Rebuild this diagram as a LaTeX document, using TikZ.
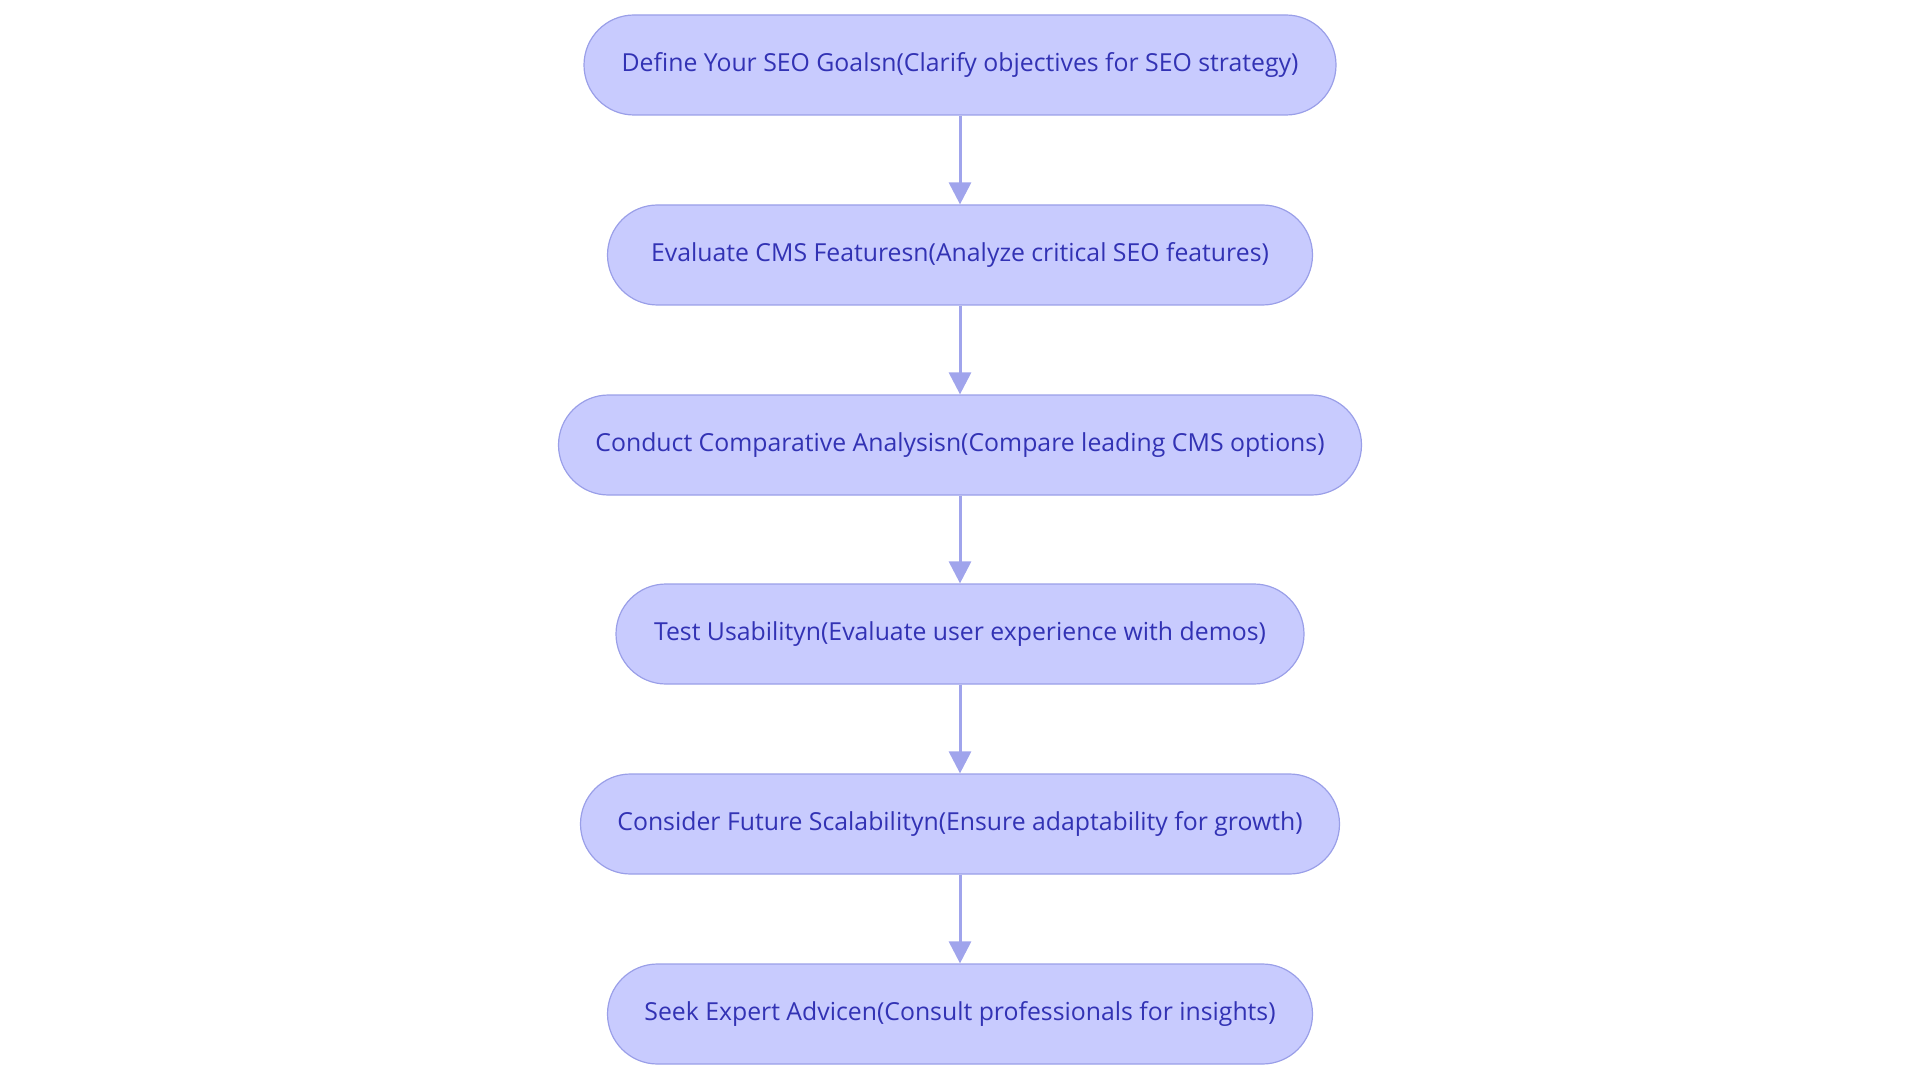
\documentclass[tikz,border=0pt]{standalone}
\usepackage{fontspec}
\setmainfont{Open Sans}
\usetikzlibrary{arrows.meta}
\definecolor{boxfill}{HTML}{C8CBFE}
\definecolor{boxline}{HTML}{9A9FE8}
\definecolor{boxtext}{HTML}{3232B4}
\definecolor{arrowc}{HTML}{A0A4EC}
\tikzset{
  stepbox/.style={draw=boxline, fill=boxfill, line width=1.2pt, rounded corners=50pt,
    minimum height=100pt, text=boxtext, font=\fontsize{24.8}{28}\selectfont, inner sep=0pt},
  flow/.style={draw=arrowc, line width=3pt, -{Triangle[length=22pt,width=22pt]}}
}
\begin{document}
\begin{tikzpicture}[x=1pt,y=-1pt]
\useasboundingbox (0,0) rectangle (1920,1083);
\node[stepbox, minimum width=752pt] (n1) at (960,65) {Define Your SEO Goalsn(Clarify objectives for SEO strategy)};
\node[stepbox, minimum width=705pt] (n2) at (960,255) {Evaluate CMS Featuresn(Analyze critical SEO features)};
\node[stepbox, minimum width=803pt] (n3) at (960,445) {Conduct Comparative Analysisn(Compare leading CMS options)};
\node[stepbox, minimum width=688pt] (n4) at (960,634) {Test Usabilityn(Evaluate user experience with demos)};
\node[stepbox, minimum width=759pt] (n5) at (960,824) {Consider Future Scalabilityn(Ensure adaptability for growth)};
\node[stepbox, minimum width=705pt] (n6) at (960,1014) {Seek Expert Advicen(Consult professionals for insights)};
\draw[flow] (n1) -- (n2);
\draw[flow] (n2) -- (n3);
\draw[flow] (n3) -- (n4);
\draw[flow] (n4) -- (n5);
\draw[flow] (n5) -- (n6);
\end{tikzpicture}
\end{document}
